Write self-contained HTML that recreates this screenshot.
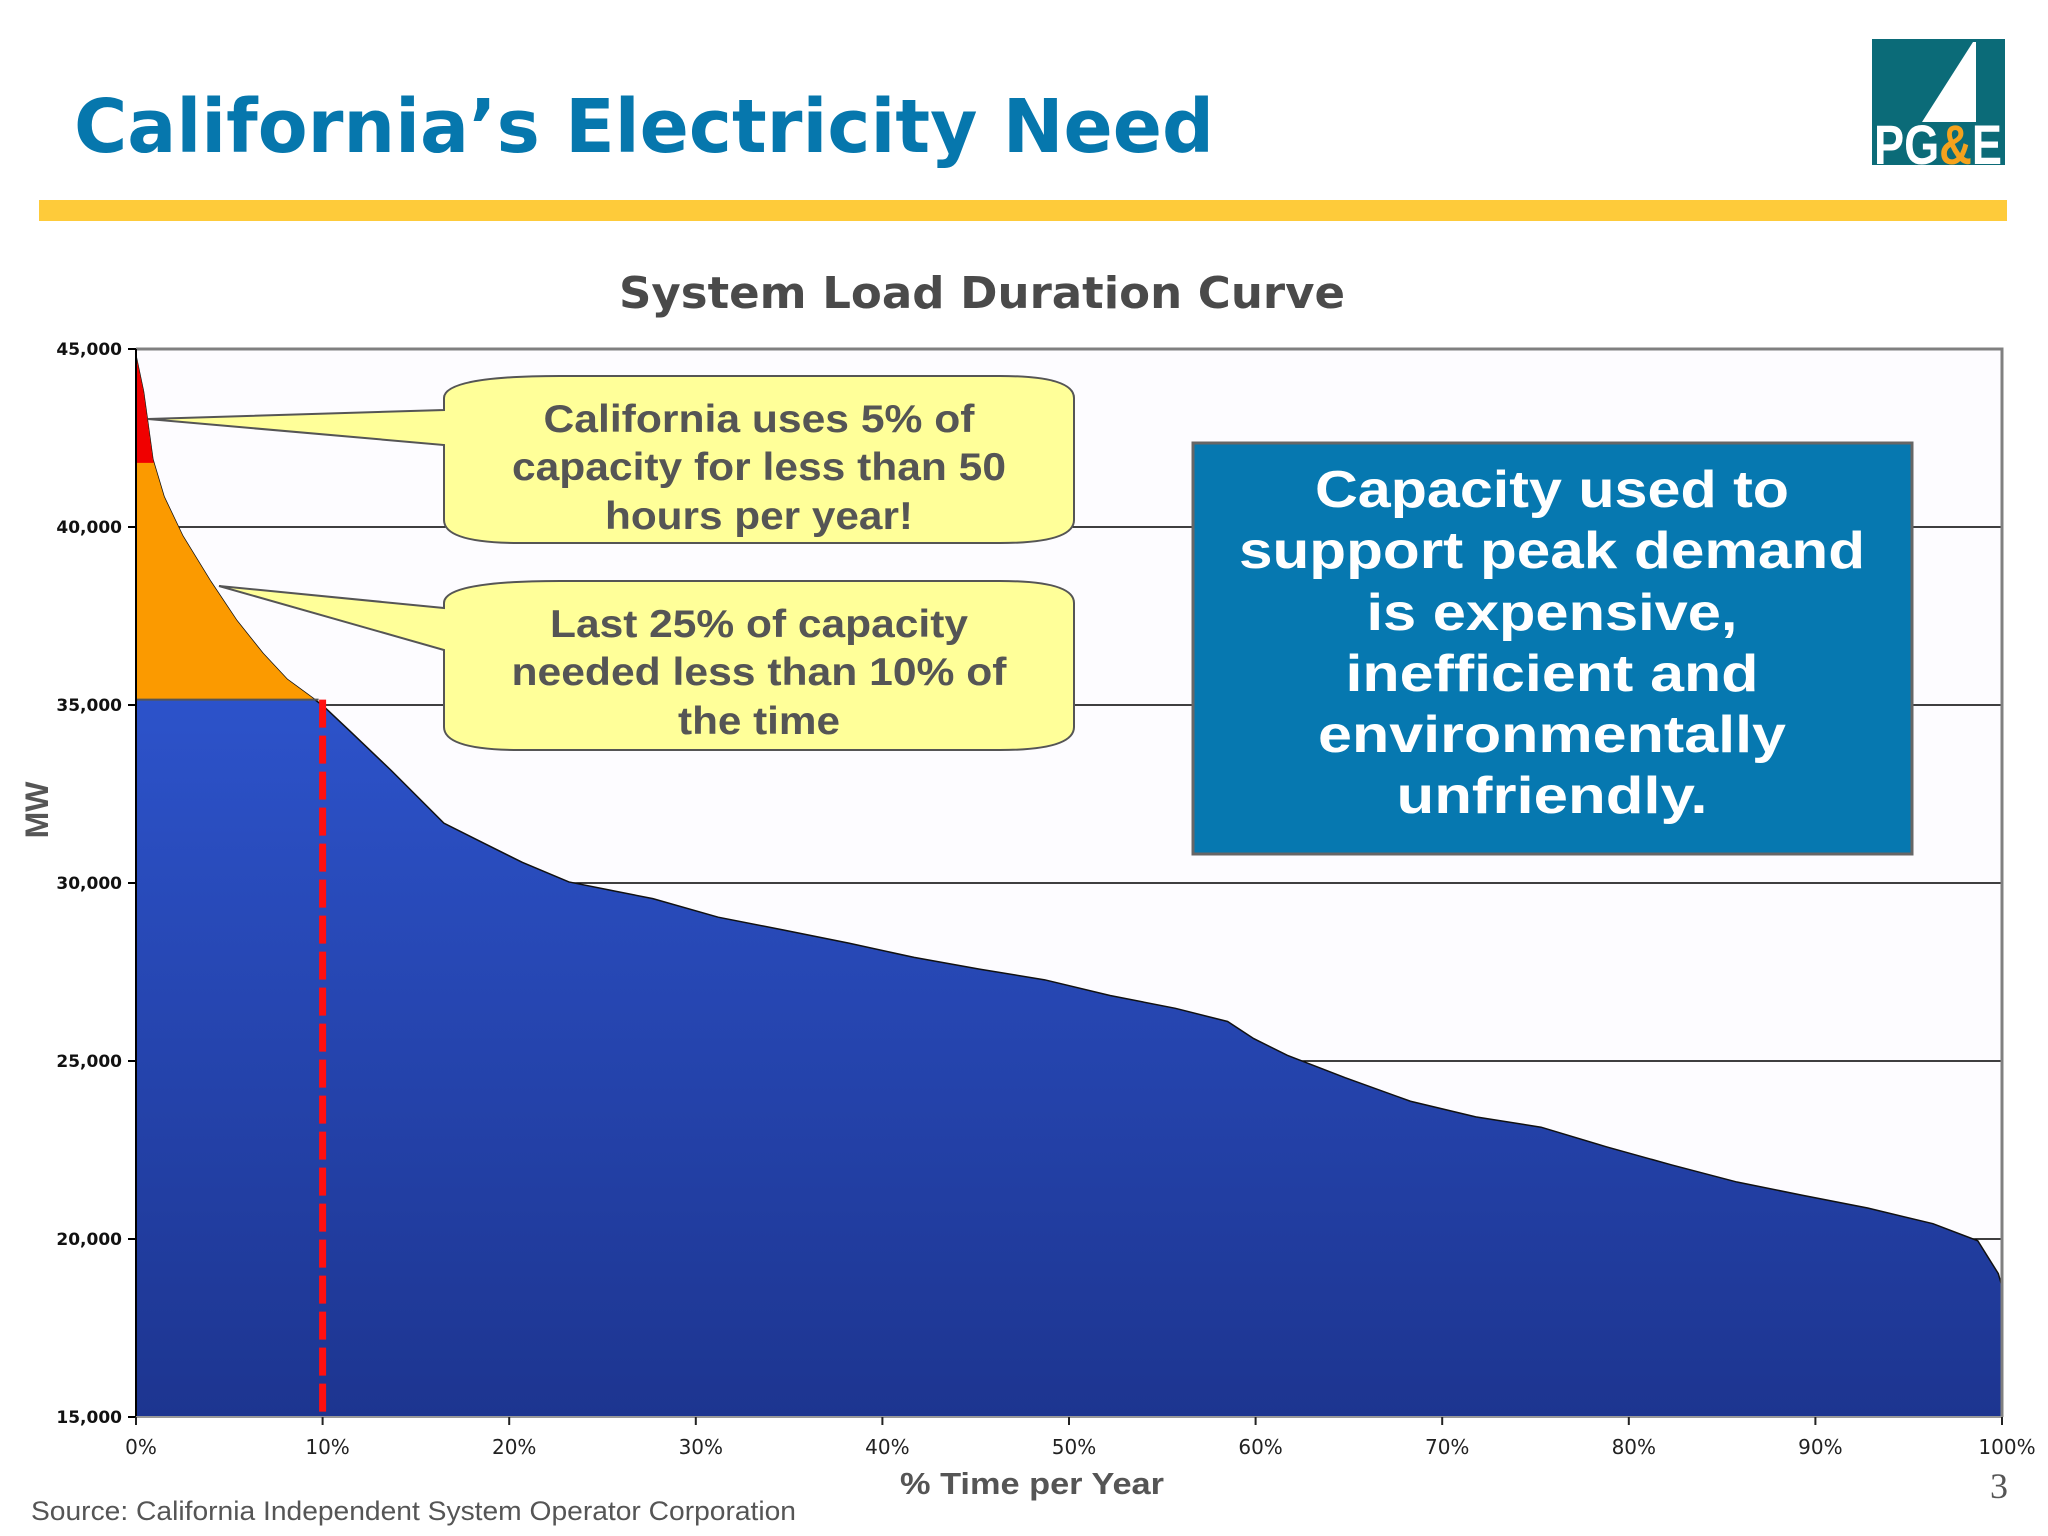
<!DOCTYPE html>
<html><head><meta charset="utf-8"><style>
html,body{margin:0;padding:0;background:#fff;}
svg{display:block;}
text{font-family:"Liberation Sans",sans-serif;}
.dv{font-family:"DejaVu Sans","Liberation Sans",sans-serif;}
</style></head><body>
<svg width="2048" height="1536" viewBox="0 0 2048 1536">
<defs>
<linearGradient id="blueg" x1="0" y1="0" x2="0" y2="1">
<stop offset="0" stop-color="#3461e6"/><stop offset="1" stop-color="#1d3590"/>
</linearGradient>
<clipPath id="clipOrange"><rect id="orRect" x="0" y="0" width="0" height="0"/></clipPath>
<clipPath id="clipRed"><rect id="redRect" x="0" y="0" width="0" height="0"/></clipPath>
</defs>
<text class="dv" x="74" y="152" font-size="74" font-weight="bold" fill="#0677ad" textLength="1140" lengthAdjust="spacingAndGlyphs">California’s Electricity Need</text>
<rect x="39" y="200" width="1968" height="21" fill="#fecb3a"/>
<g>
<rect x="1872" y="39" width="133" height="126" fill="#0b6b78"/>
<polygon points="1973,42 1976,42 1976,122 1922,122" fill="#fff"/>
<text x="1874" y="164" font-size="56" font-weight="bold" fill="#fff" textLength="128" lengthAdjust="spacingAndGlyphs">PG<tspan fill="#f4a21d">&amp;</tspan>E</text>
</g>
<text class="dv" x="982" y="308" text-anchor="middle" font-size="44" font-weight="bold" fill="#4a4a4a" textLength="726" lengthAdjust="spacingAndGlyphs">System Load Duration Curve</text>
<g id="chart"></g>
<g>
<path d="M148,419 L444,410 L444,398 Q444,376 560,376 L1000,376 Q1074,376 1074,398 L1074,520 Q1074,543 1000,543 L520,543 Q444,543 444,520 L444,445 Z" fill="#ffff99" stroke="#555" stroke-width="2"/>
<g class="dv" text-anchor="middle" font-size="39" font-weight="bold" fill="#555">
<text x="759" y="432" textLength="431" lengthAdjust="spacingAndGlyphs">California uses 5% of</text>
<text x="759" y="480" textLength="494" lengthAdjust="spacingAndGlyphs">capacity for less than 50</text>
<text x="759" y="529" textLength="308" lengthAdjust="spacingAndGlyphs">hours per year!</text>
</g>
</g>
<g>
<path d="M219,586 L444,608 L444,603 Q444,581 560,581 L1000,581 Q1074,581 1074,603 L1074,727 Q1074,750 1000,750 L520,750 Q444,750 444,727 L444,650 Z" fill="#ffff99" stroke="#555" stroke-width="2"/>
<g class="dv" text-anchor="middle" font-size="39" font-weight="bold" fill="#555">
<text x="759" y="637" textLength="418" lengthAdjust="spacingAndGlyphs">Last 25% of capacity</text>
<text x="759" y="685" textLength="495" lengthAdjust="spacingAndGlyphs">needed less than 10% of</text>
<text x="759" y="734" textLength="162" lengthAdjust="spacingAndGlyphs">the time</text>
</g>
</g>
<g>
<rect x="1193" y="443" width="719" height="411" fill="#0678b0" stroke="#666" stroke-width="3"/>
<g class="dv" text-anchor="middle" font-size="52" font-weight="bold" fill="#fff">
<text x="1552" y="507" textLength="474" lengthAdjust="spacingAndGlyphs">Capacity used to</text>
<text x="1552" y="568" textLength="626" lengthAdjust="spacingAndGlyphs">support peak demand</text>
<text x="1552" y="630" textLength="371" lengthAdjust="spacingAndGlyphs">is expensive,</text>
<text x="1552" y="691" textLength="413" lengthAdjust="spacingAndGlyphs">inefficient and</text>
<text x="1552" y="752" textLength="468" lengthAdjust="spacingAndGlyphs">environmentally</text>
<text x="1552" y="813" textLength="311" lengthAdjust="spacingAndGlyphs">unfriendly.</text>
</g>
</g>
<text x="1032" y="1494" text-anchor="middle" font-size="31" font-weight="bold" fill="#555" textLength="264" lengthAdjust="spacingAndGlyphs">% Time per Year</text>
<text transform="translate(48,810) rotate(-90)" text-anchor="middle" font-size="32" font-weight="bold" fill="#555">MW</text>
<text x="31" y="1520" font-size="27" fill="#555" textLength="765" lengthAdjust="spacingAndGlyphs">Source: California Independent System Operator Corporation</text>
<text x="2008" y="1498" text-anchor="end" font-size="36" style="font-family:'Liberation Serif',serif" fill="#555">3</text>
</svg>
<script>
const xPct = [0,0.4,0.9,1.5,2.5,4,5.4,6.8,8.1,10,11.5,13.7,16.5,18.6,20.7,23.2,25.6,27.7,31.2,34.7,38.2,41.7,45.2,48.7,52.2,55.7,58.5,59.9,61.7,64.8,68.3,71.8,75.3,78.8,82.3,85.8,89.3,92.8,96.3,98.7,99.8,100];
const loadMW = [44800,43800,41900,40850,39750,38470,37370,36450,35720,34990,34250,33150,31680,31130,30580,30030,29780,29560,29040,28680,28310,27910,27580,27280,26840,26480,26110,25630,25160,24530,23870,23430,23140,22590,22080,21600,21230,20870,20430,19950,19030,18670];
const yTicks = [15000,20000,25000,30000,35000,40000,45000];
const yTickLabels = ["15,000","20,000","25,000","30,000","35,000","40,000","45,000"];
const xTicks = [0,10,20,30,40,50,60,70,80,90,100];
const xTickLabels = ["0%","10%","20%","30%","40%","50%","60%","70%","80%","90%","100%"];
const peakThreshold = 41800, baseThreshold = 35150, cutoffPct = 10;

const L=136,R=2002,T=349,B=1417;
const X=p=>L+(p/100)*(R-L);
const Y=v=>B-(v-15000)/30000*(B-T);
const NS="http://www.w3.org/2000/svg";
const g=document.getElementById('chart');
function mk(tag,attrs,parent){const e=document.createElementNS(NS,tag);for(const k in attrs)e.setAttribute(k,attrs[k]);(parent||g).appendChild(e);return e;}
const bg=mk('rect',{x:L,y:T,width:R-L,height:B-T,fill:'#fdfcff'});


yTicks.forEach((v,i)=>{
  if(v>15000&&v<45000){const gl=mk('line',{x1:L,x2:R,y1:Y(v),y2:Y(v),stroke:'#000','stroke-width':1.5});
  
  }
  const tk=mk('line',{x1:L-8,x2:L,y1:Y(v),y2:Y(v),stroke:'#000','stroke-width':2});
  
  
  const t=mk('text',{x:L-14,y:Y(v)+6,'text-anchor':'end','font-size':17,'font-weight':'bold',fill:'#111'});
  t.setAttribute('style',"font-family:'DejaVu Sans',sans-serif");
  t.textContent=yTickLabels[i];
  
  
});
let d=`M${X(xPct[0])},${B}`;
xPct.forEach((p,i)=>{d+=` L${X(p)},${Y(loadMW[i])}`;});
d+=` L${X(xPct[xPct.length-1])},${B} Z`;
const area=mk('path',{d:d,fill:'url(#blueg)',stroke:'#111','stroke-width':1.5});


const orR=document.getElementById('orRect');
orR.setAttribute('x',L);orR.setAttribute('y',T);orR.setAttribute('width',X(cutoffPct)-L);orR.setAttribute('height',Y(baseThreshold)-T);
const rdR=document.getElementById('redRect');
rdR.setAttribute('x',L);rdR.setAttribute('y',T);rdR.setAttribute('width',X(cutoffPct)-L);rdR.setAttribute('height',Y(peakThreshold)-T);
const orA=mk('path',{d:d,fill:'#fb9a00','clip-path':'url(#clipOrange)'});


const rdA=mk('path',{d:d,fill:'#f00000','clip-path':'url(#clipRed)'});


const sep=mk('line',{x1:L,x2:X(cutoffPct)-4,y1:Y(baseThreshold),y2:Y(baseThreshold),stroke:'#555','stroke-width':2});


const dl=mk('line',{x1:X(cutoffPct),x2:X(cutoffPct),y1:Y(baseThreshold),y2:B,stroke:'#ff1010','stroke-width':7,'stroke-dasharray':'28,8'});


const fr=mk('path',{d:`M${L},${T} L${R},${T} L${R},${B}`,fill:'none',stroke:'#808080','stroke-width':3});


const ya=mk('line',{x1:L,x2:L,y1:T,y2:B,stroke:'#000','stroke-width':2});


const xa=mk('line',{x1:L,x2:R,y1:B,y2:B,stroke:'#999','stroke-width':2});


xTicks.forEach((p,i)=>{
  const tk=mk('line',{x1:X(p),x2:X(p),y1:B,y2:B+8,stroke:'#222','stroke-width':2});
  
  
  const t=mk('text',{x:X(p)+5,y:B+37,'text-anchor':'middle','font-size':20,fill:'#222'});
  t.setAttribute('style',"font-family:'DejaVu Sans',sans-serif");
  t.textContent=xTickLabels[i];
  
  
});
</script>
</body></html>
